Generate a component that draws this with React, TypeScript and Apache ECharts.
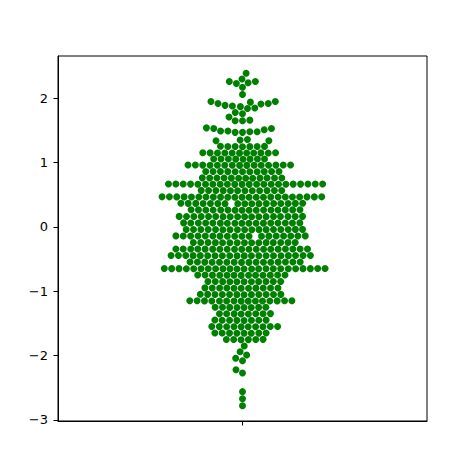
import React, { useEffect, useRef } from "react";
import * as echarts from "echarts";

// ---- data (y values, top to bottom) ----
const upperTail = [
  2.39,
  2.3, 2.26, 2.26, 2.24, 2.23, 2.17,
  2.06,
  1.95, 1.95, 1.94, 1.92, 1.92, 1.91, 1.89, 1.88, 1.87, 1.85, 1.84,
  1.78, 1.76,
  1.71, 1.66, 1.65, 1.65,
  1.54, 1.53, 1.53, 1.51, 1.49, 1.49, 1.48, 1.48, 1.47, 1.47,
  1.36, 1.35, 1.34, 1.34,
];

const upperBody = [
  1.252, 1.248, 1.25, 1.251, 1.249, 1.253, 1.247,
  1.151, 1.149, 1.15, 1.152, 1.148, 1.15, 1.153, 1.147, 1.151, 1.149, 1.15,
  1.056, 1.054, 1.055, 1.057, 1.053, 1.055, 1.056, 1.054,
  0.96, 0.962, 0.958, 0.961, 0.959, 0.963, 0.957, 0.96, 0.962, 0.958, 0.961, 0.959, 0.963, 0.957, 0.96,
  0.86, 0.862, 0.858, 0.861, 0.859, 0.863, 0.857, 0.86, 0.862, 0.858, 0.861,
  0.76, 0.762, 0.758, 0.761, 0.759, 0.763, 0.757, 0.76, 0.762, 0.758, 0.761, 0.759,
  0.665, 0.667, 0.663, 0.666, 0.664, 0.668, 0.662, 0.665, 0.667, 0.663, 0.666, 0.664, 0.668, 0.662, 0.665, 0.667, 0.663, 0.666, 0.664, 0.668, 0.662, 0.665,
  0.565, 0.567, 0.563, 0.566, 0.564, 0.568, 0.562, 0.565, 0.567, 0.563, 0.566, 0.564,
];

const core = [
  0.465, 0.467, 0.463, 0.466, 0.464, 0.468, 0.462, 0.465, 0.467, 0.463, 0.466, 0.464, 0.468, 0.462, 0.465, 0.467, 0.463, 0.466, 0.464, 0.468, 0.462, 0.465, 0.467,
  0.364, 0.366, 0.362, 0.365, 0.363, 0.367, 0.361, 0.364, 0.366, 0.362, 0.365, 0.363, 0.367, 0.361, 0.364, 0.366, 0.362,
  0.263, 0.265, 0.261, 0.264, 0.262, 0.266, 0.26, 0.263, 0.265, 0.261, 0.264, 0.262, 0.266, 0.26, 0.263, 0.265,
  0.161, 0.163, 0.159, 0.162, 0.16, 0.164, 0.158, 0.161, 0.163, 0.159, 0.162, 0.16, 0.164, 0.158, 0.161, 0.163, 0.159, 0.162,
  0.06, 0.062, 0.058, 0.061, 0.059, 0.063, 0.057, 0.06, 0.062, 0.058, 0.061, 0.059, 0.063, 0.057, 0.06, 0.062, 0.058,
  -0.041, -0.039, -0.043, -0.04, -0.042, -0.038, -0.044, -0.041, -0.039, -0.043, -0.04, -0.042, -0.038, -0.044, -0.041, -0.039, -0.043,
  -0.142, -0.14, -0.144, -0.141, -0.143, -0.139, -0.145, -0.142, -0.14, -0.144, -0.141, -0.143, -0.139, -0.145, -0.142, -0.14, -0.144, -0.141,
  -0.244, -0.242, -0.246, -0.243, -0.245, -0.241, -0.247, -0.244, -0.242, -0.246, -0.243, -0.245, -0.241, -0.247, -0.244,
  -0.345, -0.343, -0.347, -0.344, -0.346, -0.342, -0.348, -0.345, -0.343, -0.347, -0.344, -0.346, -0.342, -0.348, -0.345, -0.343, -0.347, -0.344, -0.346,
  -0.447, -0.445, -0.449, -0.446, -0.448, -0.444, -0.45, -0.447, -0.445, -0.449, -0.446, -0.448, -0.444, -0.45, -0.447, -0.445, -0.449, -0.446, -0.448, -0.444,
  -0.548, -0.546, -0.55, -0.547, -0.549, -0.545, -0.551, -0.548, -0.546, -0.55, -0.547, -0.549, -0.545, -0.551, -0.548, -0.546,
];

const lowerBody = [
  -0.65, -0.648, -0.652, -0.649, -0.651, -0.647, -0.653, -0.65, -0.648, -0.652, -0.649, -0.651, -0.647, -0.653, -0.65, -0.648, -0.652, -0.649, -0.651, -0.647, -0.653, -0.65, -0.648,
  -0.75, -0.748, -0.752, -0.749, -0.751, -0.747, -0.753, -0.75, -0.748, -0.752, -0.749, -0.751, -0.747,
  -0.85, -0.848, -0.852, -0.849, -0.851, -0.847, -0.853, -0.85, -0.848, -0.852, -0.849,
  -0.95, -0.948, -0.952, -0.949, -0.951, -0.947, -0.953, -0.95, -0.948, -0.952, -0.949,
  -1.05, -1.048, -1.052, -1.049, -1.051, -1.047, -1.053, -1.05, -1.048, -1.052, -1.049, -1.051,
  -1.15, -1.148, -1.152, -1.149, -1.151, -1.147, -1.153, -1.15, -1.148, -1.152, -1.149, -1.151, -1.147, -1.153, -1.15,
];

const lowerTail = [
  -1.25, -1.248, -1.252, -1.249, -1.251, -1.247, -1.253, -1.25,
  -1.35, -1.348, -1.352, -1.349, -1.351, -1.347, -1.353, -1.35,
  -1.45, -1.448, -1.452, -1.449, -1.451, -1.447, -1.453, -1.45,
  -1.55, -1.548, -1.552, -1.549, -1.551, -1.547, -1.553, -1.55, -1.548, -1.552,
  -1.65, -1.648, -1.652, -1.649, -1.651, -1.647, -1.653, -1.65,
  -1.75, -1.748, -1.752, -1.749, -1.751, -1.747,
  -1.85, -1.94, -1.99, -2.04, -2.08, -2.22, -2.27, -2.56, -2.67, -2.78,
];

const yTicks = [-3, -2, -1, 0, 1, 2];
const xTicks = [0];

const values = [...upperTail, ...upperBody, ...core, ...lowerBody, ...lowerTail];

// ---- layout constants ----
const GRID = { left: 58, top: 56, width: 369, height: 365 };
const Y_MIN = -3.016;
const Y_MAX = 2.657;
const X_MIN = -0.5;
const X_MAX = 0.5;
const DOT = 7;

// seaborn-like beeswarm placement (in pixel space), returns x offsets in px
function beeswarm(vals: number[], pxPerUnit: number, r: number): number[] {
  const order = vals.map((_, i) => i).sort((a, b) => vals[a] - vals[b]);
  const placed: { x: number; y: number }[] = [];
  const out = new Array(vals.length).fill(0);
  for (const i of order) {
    const y = vals[i] * pxPerUnit;
    const neighbors: { x: number; y: number }[] = [];
    for (let j = placed.length - 1; j >= 0; j--) {
      if (y - placed[j].y < 2 * r) neighbors.push(placed[j]);
      else break;
    }
    const cands: number[] = [0];
    let leftFirst = true;
    for (const n of neighbors) {
      const dy = y - n.y;
      const dx = Math.sqrt(Math.max(4 * r * r - dy * dy, 0)) * 1.05;
      if (leftFirst) cands.push(n.x - dx, n.x + dx);
      else cands.push(n.x + dx, n.x - dx);
      leftFirst = !leftFirst;
    }
    const sorted = cands
      .map((c, k) => ({ c, k }))
      .sort((a, b) => Math.abs(a.c) - Math.abs(b.c) || a.k - b.k);
    let chosen = sorted[sorted.length - 1].c;
    for (const s of sorted) {
      const ok = neighbors.every(
        (n) => (n.x - s.c) ** 2 + (n.y - y) ** 2 >= 4 * r * r - 1e-6
      );
      if (ok) {
        chosen = s.c;
        break;
      }
    }
    placed.push({ x: chosen, y });
    out[i] = chosen;
  }
  return out;
}

export default function App() {
  const ref = useRef<HTMLDivElement>(null);

  useEffect(() => {
    if (!ref.current) return;
    const chart = echarts.init(ref.current, undefined, { renderer: "svg" });
    const pxPerY = GRID.height / (Y_MAX - Y_MIN);
    const pxPerX = GRID.width / (X_MAX - X_MIN);
    const offs = beeswarm(values, pxPerY, DOT / 2);
    const data = values.map((v, i) => [offs[i] / pxPerX, v]);

    const fmt = (v: number) => String(v).replace("-", "\u2212");

    chart.setOption({
      animation: false,
      backgroundColor: "#ffffff",
      grid: {
        ...GRID,
        show: true,
        borderColor: "#000000",
        borderWidth: 1,
        backgroundColor: "transparent",
      },
      xAxis: {
        type: "value",
        min: X_MIN,
        max: X_MAX,
        axisLine: { show: true, onZero: false, lineStyle: { color: "#000", width: 1 } },
        axisTick: {
          show: true,
          inside: false,
          length: 4.5,
          customValues: xTicks,
          lineStyle: { color: "#000", width: 1 },
        },
        axisLabel: { show: false },
        splitLine: { show: false },
      },
      yAxis: {
        type: "value",
        min: Y_MIN,
        max: Y_MAX,
        axisLine: { show: true, onZero: false, lineStyle: { color: "#000", width: 1 } },
        axisTick: {
          show: true,
          inside: false,
          length: 4.5,
          customValues: yTicks,
          lineStyle: { color: "#000", width: 1 },
        },
        axisLabel: {
          show: true,
          customValues: yTicks,
          margin: 10,
          color: "#000",
          fontFamily: "DejaVu Sans",
          fontSize: 13,
          formatter: fmt,
        },
        splitLine: { show: false },
      },
      series: [
        {
          type: "scatter",
          data,
          symbol: "circle",
          symbolSize: DOT,
          itemStyle: { color: "#008000", opacity: 1 },
          emphasis: { disabled: true },
          silent: true,
        },
      ],
    });
    return () => chart.dispose();
  }, []);

  return (
    <div
      ref={ref}
      style={{ position: "fixed", left: 0, top: 0, width: 474, height: 474, background: "#fff" }}
    />
  );
}
